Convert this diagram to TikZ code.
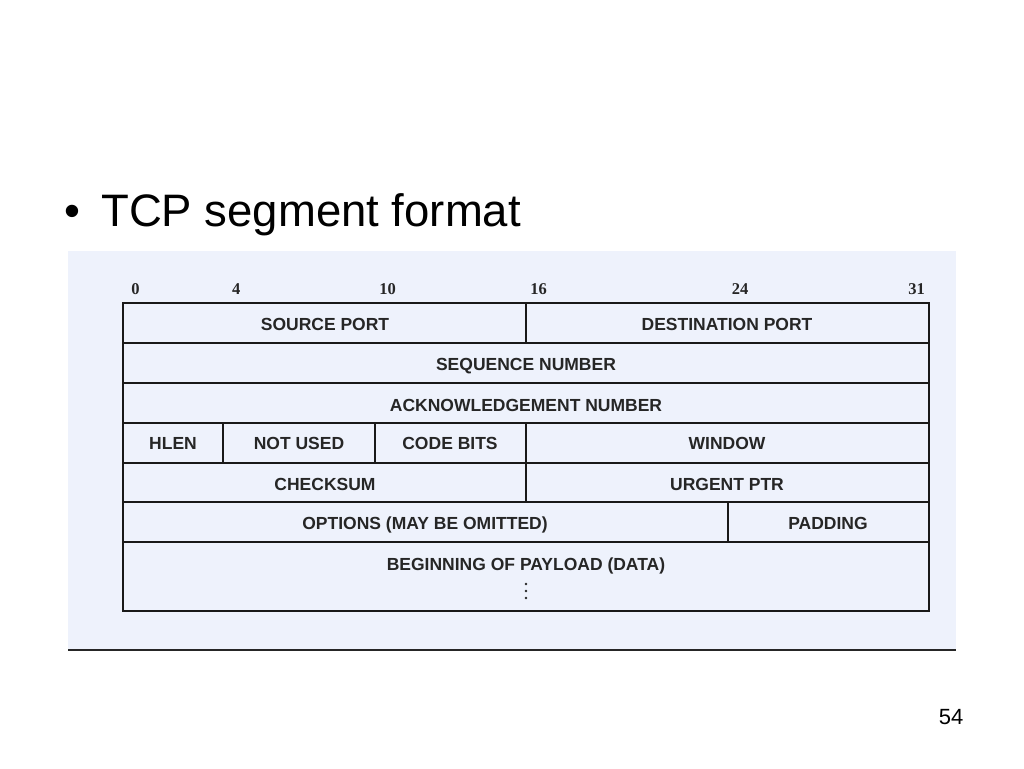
\documentclass[tikz,border=0pt]{standalone}
\usepackage{fontspec}
\setmainfont{Liberation Sans}
\newfontfamily\bitfont{Liberation Serif}
\definecolor{panelblue}{RGB}{238,242,252}
\begin{document}
\begin{tikzpicture}[x=1pt,y=-1pt,
  grid/.style={line width=1.6pt, black!90},
  field/.style={font=\bfseries\fontsize{17.5}{17.5}\selectfont, text=black!85, inner sep=0pt, text height=12.5pt, text depth=0pt},
  bitno/.style={font=\bitfont\bfseries\fontsize{16.5}{16.5}\selectfont, text=black!85, inner sep=0pt, text height=11pt, text depth=0pt}]
\useasboundingbox (0,0) rectangle (1024,768);
% title line
\node[anchor=base west, font=\fontsize{45.5}{45.5}\selectfont, inner sep=0pt] (bullet) at (64,226) {\textbullet};
\node[anchor=base west, font=\fontsize{45.5}{45.5}\selectfont, inner sep=0pt] (title) at (101,226) {TCP segment format};
% picture panel
\fill[panelblue] (68,251) rectangle (956,650);
\draw[line width=2.8pt, black!85] (68,650) -- (956,650);
% bit numbers
\foreach \b in {0,4,10,16,24,31}
  \node[bitno] (bit\b) at ({123+25.19*(\b+0.5)},289) {\b};
\begin{scope} % start of table scope
\draw[grid] (123,303) rectangle (929,611);
\foreach \y in {343,383,423,463,502,542}
  \draw[grid] (123,\y) -- (929,\y);
\draw[grid] (526,303) -- (526,343);
\draw[grid] (223,423) -- (223,463);
\draw[grid] (375,423) -- (375,463);
\draw[grid] (526,423) -- (526,502);
\draw[grid] (728,502) -- (728,542);
\end{scope} % end of table scope
\node[field] (srcport) at (325,324) {SOURCE PORT};
\node[field] (dstport) at (727,324) {DESTINATION PORT};
\node[field] (seqnum) at (526,364) {SEQUENCE NUMBER};
\node[field] (acknum) at (526,405) {ACKNOWLEDGEMENT NUMBER};
\node[field] (hlen) at (173,443) {HLEN};
\node[field] (notused) at (299,443) {NOT USED};
\node[field] (codebits) at (450,443) {CODE BITS};
\node[field] (window) at (727,443) {WINDOW};
\node[field] (checksum) at (325,484) {CHECKSUM};
\node[field] (urgent) at (727,484) {URGENT PTR};
\node[field] (options) at (425,523) {OPTIONS (MAY BE OMITTED)};
\node[field] (padding) at (828,523) {PADDING};
\node[field] (payload) at (526,564) {BEGINNING OF PAYLOAD (DATA)};
% the three dots under the payload
\foreach \d in {584,591,598}
  \fill[black!85] (526,\d) circle (1.3);
% slide number
\node[font=\fontsize{22}{22}\selectfont, inner sep=0pt] (pageno) at (951,717) {54};
\end{tikzpicture}
\end{document}
